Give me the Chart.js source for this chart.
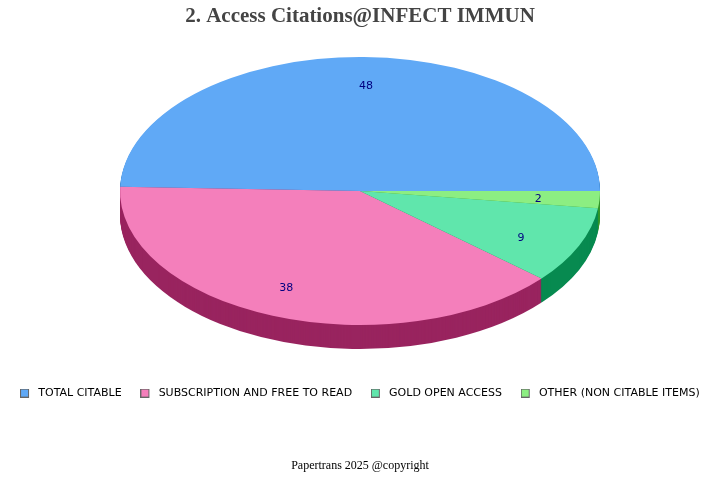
<!DOCTYPE html>
<html>
<head>
<meta charset="utf-8">
<style>html,body{margin:0;padding:0;background:#fff}canvas{display:block}</style>
<script src="https://cdn.jsdelivr.net/npm/chart.js@4"></script>
</head>
<body>
<canvas id="c" width="720" height="480"></canvas>
<script>
const categories = ["TOTAL CITABLE", "SUBSCRIPTION AND FREE TO READ", "GOLD OPEN ACCESS", "OTHER (NON CITABLE ITEMS)"];
const values = [48, 38, 9, 2];
const topColors = ["#60A9F6", "#F47FBB", "#60E6AC", "#8CEE82"];
const rimColors = ["#0A5AA0", "#99245F", "#078A50", "#32952A"];
const titleText = "2. Access Citations@INFECT IMMUN";
const footerText = "Papertrans 2025 @copyright";
const labelNudgeX = [3, -9, -1, 1];
const labelNudgeY = [0, 0, 4, 1];

const PIE = {cx: 360, cy: 191, rx: 240, ry: 134, depth: 24};

function legendSwatch(color) {
  const s = document.createElement('canvas');
  s.width = 13; s.height = 9;
  const g = s.getContext('2d');
  g.fillStyle = color; g.fillRect(0, 0, 9, 9);
  g.strokeStyle = '#666'; g.lineWidth = 1; g.strokeRect(0.5, 0.5, 8, 8);
  return s;
}

const tilted = {
  id: 'tilted',
  beforeDatasetsDraw(chart) {
    const ctx = chart.ctx, arcs = chart.getDatasetMeta(0).data, R = arcs[0].outerRadius;
    const place = (dy) => {
      ctx.setTransform(1, 0, 0, 1, 0, 0);
      ctx.translate(PIE.cx, PIE.cy + dy);
      ctx.scale(PIE.rx / R, -PIE.ry / R);
    };
    ctx.save();
    for (let d = PIE.depth; d >= 1; d--) {
      place(d);
      arcs.forEach((a, i) => {
        ctx.beginPath(); ctx.moveTo(0, 0);
        ctx.arc(0, 0, R, a.startAngle, a.endAngle);
        ctx.closePath();
        ctx.fillStyle = rimColors[i];
        ctx.fill();
      });
    }
    // The library's own arc elements draw the top face through this transform.
    ctx.setTransform(1, 0, 0, 1, 0, 0);
    ctx.translate(PIE.cx, PIE.cy);
    ctx.scale(PIE.rx / R, -PIE.ry / R);
    ctx.translate(-arcs[0].x, -arcs[0].y);
  },
  afterDatasetsDraw(chart) {
    const ctx = chart.ctx;
    ctx.restore();
    ctx.save();
    ctx.font = '11px "DejaVu Sans"';
    ctx.fillStyle = '#000080';
    ctx.textAlign = 'center';
    ctx.textBaseline = 'middle';
    chart.getDatasetMeta(0).data.forEach((a, i) => {
      const m = (a.startAngle + a.endAngle) / 2;
      ctx.fillText(String(values[i]),
        PIE.cx + PIE.rx * 0.74 * Math.cos(m) + labelNudgeX[i],
        PIE.cy - PIE.ry * 0.78 * Math.sin(m) + labelNudgeY[i]);
    });
    ctx.restore();
  }
};

new Chart(document.getElementById('c'), {
  type: 'pie',
  data: {
    labels: categories,
    datasets: [{data: values, backgroundColor: topColors, borderWidth: 0}]
  },
  options: {
    responsive: false,
    animation: false,
    rotation: 90,
    layout: {padding: 0},
    plugins: {
      tooltip: {enabled: false},
      title: {
        display: true, text: titleText, color: '#444444',
        font: {family: '"Liberation Serif"', size: 21, weight: 'bold'},
        padding: {top: 4, bottom: 8}
      },
      subtitle: {
        display: true, text: footerText, color: '#000000', position: 'bottom',
        font: {family: '"Liberation Serif"', size: 12, weight: 'normal'},
        padding: {top: 50, bottom: 7}
      },
      legend: {
        position: 'bottom',
        labels: {
          color: '#000000',
          font: {family: '"DejaVu Sans"', size: 11},
          usePointStyle: true,
          pointStyleWidth: 12.5,
          padding: 19,
          generateLabels: (chart) => categories.map((t, i) => ({
            text: t, index: i, fontColor: '#000000', hidden: false,
            pointStyle: legendSwatch(topColors[i]), lineWidth: 0
          }))
        }
      }
    }
  },
  plugins: [tilted]
});
</script>
</body>
</html>
